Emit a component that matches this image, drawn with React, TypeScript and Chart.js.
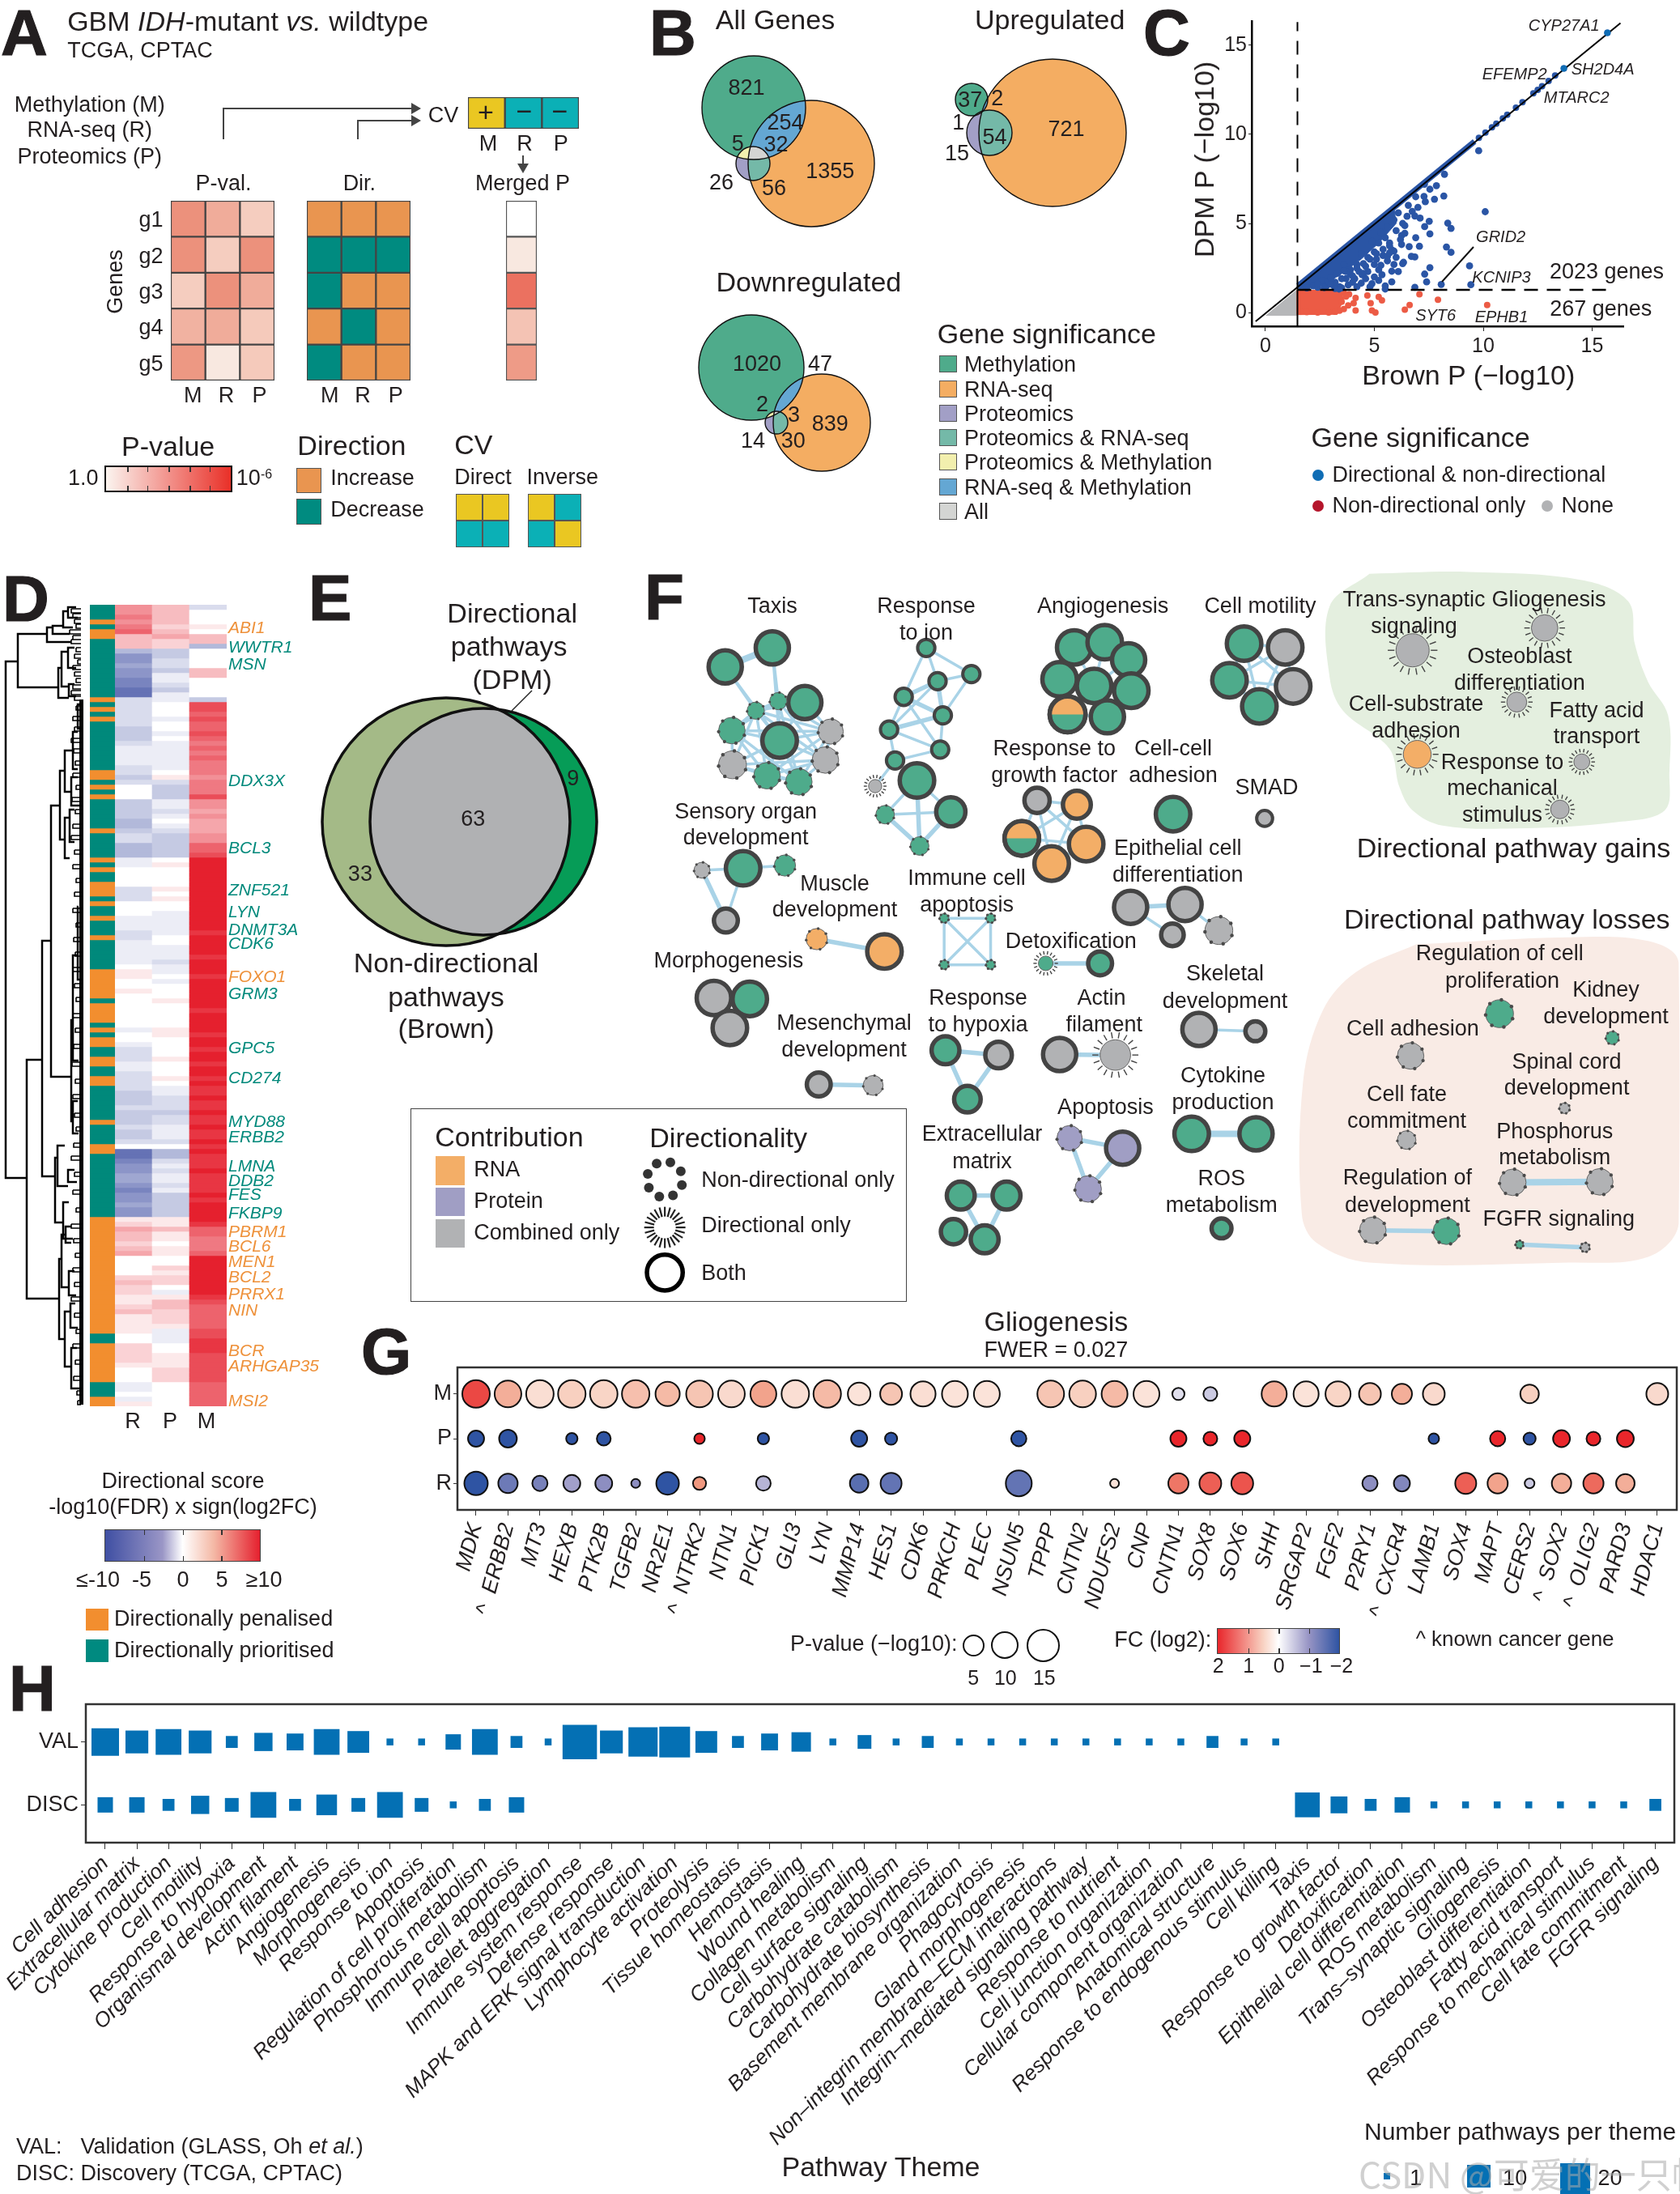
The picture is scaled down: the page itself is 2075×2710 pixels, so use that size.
import React, { useEffect, useRef } from 'react';
import { Chart, registerables } from 'chart.js';
Chart.register(...registerables);
const FONT = '"Liberation Sans", Arial, sans-serif';
Chart.defaults.font.family = FONT;
Chart.defaults.color = '#231f20';

/* ---------- DATA ---------- */
// Panel A
const pvalM = [3, 3, 1.2, 2, 2.8];
const pvalR = [2.2, 1.2, 3, 2.2, 0.3];
const pvalP = [1.2, 3, 2.2, 1.3, 1.3];
const dirM = ['I', 'D', 'D', 'I', 'D'];
const dirR = ['I', 'D', 'I', 'D', 'I'];
const dirP = ['I', 'D', 'I', 'I', 'I'];
const mergedP = [0, 0.3, 4, 1.5, 2.7];
const cvCells = ['+', '-', '-'];
// Panel B: [centre x, centre y, radius]
const vennAll = [[931, 133, 64], [1002, 202, 78], [930, 202, 21]];
const vennUp = [[1200, 123, 20], [1300, 164, 91], [1222, 164, 28]];
const vennDown = [[928, 454, 65], [1015, 522, 60], [959, 522, 14]];
// Panel C
const diagonalGenes = [9.8, 10.1, 10.4, 10.6, 10.9, 11.1, 11.5, 11.8, 12.3, 12.5, 12.7, 13, 13.3, 13.7, 15.7];
const blueX = [8.22, 7.85, 7.55, 8.19, 7.28, 7.76, 7.34, 6.56, 6.74, 6.86, 7.52, 8.37, 8.52, 7.31, 7.55, 6.4, 10.09, 8.31, 8.52, 7.07, 6.86, 6.25, 6.25, 5.8, 6.34, 7.55, 7.31, 9.37, 8.07, 9.43, 6.86, 7.4, 5.8, 5.8, 5.35, 4.89, 5.5, 4.44, 3.38, 9.79, 5.9, 5.6, 6, 5.5, 5.2, 5, 4.7, 4.6, 4.2, 3.9, 3.7, 3.2, 2.8, 5.3, 4.9, 5.7, 6.1, 6.5, 6.3, 5.4, 5, 4.3, 4, 4.6, 5.2, 5.6, 6, 6.1, 6.6, 6.9, 7.1, 7, 4.4, 3.6, 3.3, 2.6, 2.2, 7.3, 6.9,
  3.1, 3.5, 3.9, 4.2, 4.5, 4.8, 5.1, 5.4, 5.7, 2.4, 2.9, 3.4, 3.8, 4.1, 4.4, 4.7, 5, 5.3, 5.6, 5.9, 6.2, 2.7, 3.2, 3.7, 4.2, 4.8, 5.2, 5.5, 5.9, 6.3, 6.7, 3, 3.5, 4, 4.5, 5.1, 5.7, 6.4, 1.9, 2.4, 3, 3.6];
const blueY = [7.76, 7.12, 6.92, 6.54, 6.52, 6.36, 6.22, 6.02, 5.68, 5.42, 5.12, 5.02, 4.72, 4.82, 4.42, 4.88, 5.66, 3.68, 3.38, 3.72, 3.12, 4.32, 3.82, 3.52, 2.82, 2.52, 2.16, 2.62, 1.58, 1.56, 1.42, 1.72, 2.32, 1.72, 2.12, 1.62, 1.32, 2.12, 1.32, 9.08, 5.2, 4.8, 4.6, 4.2, 3.9, 3.4, 3.1, 2.6, 2.7, 2.4, 1.9, 1.7, 1.5, 4.5, 4, 3.9, 5.6, 5.4, 5, 3.2, 2.7, 2.3, 1.7, 1.9, 2.4, 2.9, 3.1, 2.3, 3.7, 4.2, 5.3, 5.9, 3.3, 2.7, 2.2, 1.8, 1.5, 7.2, 6.5,
  1.55, 1.9, 2.15, 2.5, 2.75, 3, 3.3, 3.55, 3.75, 1.42, 1.75, 1.45, 1.55, 1.9, 1.65, 2.3, 2, 2.65, 3.15, 3.45, 4.1, 1.4, 1.35, 2.3, 1.45, 1.45, 1.8, 1.5, 2.7, 2.75, 3.15, 1.6, 1.38, 2.05, 2.2, 3, 3.35, 4.45, 1.38, 1.6, 1.95, 2.35];
const redX = [4.68, 5.2, 5.35, 4.83, 4.89, 5.05, 7.07, 7.92, 6.62, 6.4, 10.18, 4.14, 4.14, 3.84, 4.05, 3.6, 3.7, 3.5, 3.8, 3.6, 3.4, 3.2, 2.9, 2.4, 1.9, 1.6];
const redY = [0.96, 0.88, 0.68, 0.52, 0.12, 0, 1.02, 0.72, 0.42, 0.16, 0.42, 0.12, 0.82, 1.02, 0.52, 1.1, 0.9, 0.6, 0.4, 0.2, 0.1, 0.05, 0, 0, 0.02, 0.05];
const blueDenseX = [1.5, 5.9, 6, 5.2, 4.4, 3.4, 2.6, 1.5];
const blueDenseY = [1.5, 5.9, 5, 3.9, 3, 2.1, 1.5, 1.3];
const redDenseX = [1.45, 1.45, 3.4, 3.6, 3.3, 1.45];
const redDenseY = [-0.12, 1.25, 1.25, 0.8, -0.1, -0.12];
// Panel D
const dAnno = 'TTTOTOOTTT' + 'TTTTTTTTTO' + 'TOTOTTTTTT' + 'TTTTOOTOTO' + 'TTTTTTOTTT' + 'TTOTOTTOOO' + 'TOTTOTTTOT' + 'TTTTTOOOOO' + 'OTOOOOTOTO' + 'OTTOOTTOOT' + 'TTTTTTOTTT' + 'TOOTTTTTTT' + 'TTTTTTOOOO' + 'OOOOOOOOOO' + 'OOOOOOOOOO' + 'TTOOOOOOOO' + 'TTTOO';
const dR = [5, 5, 6, 5, 6, 7, 3, 3, 3, -4,
  -6, -6, -5, -6, -6, -7, -7, -8, -8, -2,
  -2, -2, -2, -2, -2, -3, -3, -3, -2, -1,
  -1, -1, -1, -2, -2, -3, -2, 0, 0, 0,
  -3, -3, -3, -3, -4, -4, -3, -2, -2, -4,
  -4, -4, -1, -1, 0, 0, 0, 0, -2, -2,
  -2, 0, 0, 0, -1, -1, -1, -2, -2, -1,
  -1, -1, -1, -1, 0, 1, 1, 0, 0, 1,
  0, 0, 0, 0, 0, 0, 0, -1, 0, 0,
  -1, -2, -2, -2, -1, -1, -2, -2, -2, -2,
  -3, -3, -3, -2, -3, -3, -3, -2, -3, -3,
  -2, 0, -8, -8, -7, -6, -6, -5, -5, -6,
  -7, -6, -6, -5, -6, -6, 1, 2, 4, 3,
  3, 2, 3, 4, 0, 0, 0, 0, 2, 3,
  2, 2, 1, 1, 2, 3, 1, 1, 1, 1,
  0, 0, 2, 2, 2, 2, 1, 0, 0, 0,
  -1, -1, 0, -1, 1];
const dP = [3, 3, 3, 3, 2, 3, 4, 2, 2, -3,
  -3, -2, -2, -3, -1, -1, -2, -3, -1, -1,
  0, 0, 0, -1, 0, 0, -1, 0, -1, -1,
  -1, -1, -1, -1, 0, 1, -2, -3, -3, -3,
  -1, -1, -2, -1, 0, -1, -2, -3, -3, -3,
  -3, -3, 0, 1, 0, 0, 0, 0, 1, 0,
  1, 0, 0, -1, -1, -1, -1, -1, 0, 0,
  -1, -1, -1, -2, -1, -1, 0, -1, 0, 0,
  0, 1, 0, 0, 0, 0, 0, 1, 1, 0,
  0, 0, 0, 1, 0, 0, 0, 1, 0, -1,
  -1, -2, -2, -2, -3, -2, -2, -1, -1, -1,
  -2, 0, -4, -4, -2, -1, -2, -1, -1, -2,
  -1, -3, -3, -3, -3, -3, 1, 1, 3, 1,
  1, 0, 1, 1, 0, 0, 2, 1, 2, 2,
  0, -1, 1, 3, 3, 2, 2, 2, 1, -1,
  -1, -1, 0, 0, 1, 1, 1, 2, 2, 2,
  0, 0, 0, 0, 0];
const dM = [-2, 0, 0, 0, 1, 0, 3, 3, -4, 0,
  0, 0, 0, 3, 3, 0, 0, 0, 0, -3,
  8, 8, 7, 8, 7, 7, 8, 7, 6, 7,
  6, 7, 6, 6, 6, 5, 6, 6, 6, 8,
  5, 5, 4, 5, 4, 4, 4, 5, 5, 7,
  7, 8, 10, 10, 10, 10, 10, 10, 10, 10,
  10, 10, 10, 10, 10, 10, 10, 9, 10, 10,
  10, 10, 9, 10, 10, 10, 9, 10, 10, 10,
  10, 10, 10, 9, 10, 10, 10, 10, 9, 10,
  10, 9, 10, 10, 9, 10, 10, 9, 10, 9,
  9, 10, 9, 9, 10, 9, 9, 10, 9, 9,
  10, 9, 10, 9, 9, 9, 10, 9, 9, 9,
  9, 10, 9, 10, 10, 10, 10, 9, 7, 7,
  6, 6, 6, 7, 10, 10, 10, 10, 10, 10,
  10, 10, 9, 8, 7, 7, 7, 7, 7, 8,
  8, 9, 9, 9, 8, 8, 8, 8, 8, 8,
  7, 7, 7, 7, 7];
// dendrogram brackets: [x, y1, x1, y2, x2]
const dendroBrackets = [
  [7, 817, 22, 1455, 33], [22, 783, 58, 849, 72], [58, 775, 65, 793, 88], [65, 773, 78, 783, 86], [78, 755, 84, 775, 90],
  [84, 750, 94, 763, 96], [72, 825, 76, 862, 85], [76, 805, 84, 848, 85], [84, 800, 92, 825, 94], [85, 845, 92, 860, 94],
  [33, 1309, 52, 1604, 73], [52, 1162, 63, 1453, 68], [63, 995, 74, 1330, 88], [74, 952, 80, 1037, 80],
  [80, 927, 90, 978, 88], [90, 904, 96, 950, 96], [88, 960, 96, 995, 98], [80, 1010, 86, 1060, 86], [86, 1000, 92, 1040, 92],
  [73, 1555, 76, 1654, 80], [76, 1525, 81, 1590, 85], [80, 1620, 87, 1688, 88], [81, 1515, 88, 1535, 88], [85, 1570, 92, 1600, 94],
  [87, 1610, 93, 1640, 96], [88, 1665, 95, 1715, 98], [68, 1430, 71, 1510, 78], [71, 1415, 80, 1465, 84], [78, 1485, 85, 1530, 90], [84, 1445, 92, 1460, 95],
  [88, 1260, 90, 1385, 90], [90, 1180, 96, 1310, 97], [90, 1360, 96, 1400, 97], [96, 1120, 97, 1210, 98], [96, 900, 98, 870, 98],
];
const dendroTips = [[88, 752], [90, 758], [92, 765], [94, 771], [86, 778], [90, 785], [88, 790], [94, 800], [92, 808], [96, 815], [90, 822], [92, 830], [94, 838], [90, 846], [88, 853], [92, 860],
  [94, 872], [90, 885], [92, 898], [88, 912], [91, 925], [93, 940], [90, 955], [94, 970], [89, 985], [93, 1000], [90, 1018], [88, 1032], [92, 1050], [90, 1068], [94, 1085], [92, 1102], [90, 1122], [94, 1140], [91, 1158], [93, 1176], [90, 1195], [92, 1215], [94, 1232], [90, 1252], [93, 1270], [91, 1290], [89, 1312], [93, 1333], [90, 1352], [92, 1375], [94, 1392], [91, 1412], [88, 1428], [92, 1448], [90, 1470], [94, 1492], [88, 1512], [91, 1530], [93, 1548], [90, 1566], [92, 1584], [88, 1602], [92, 1622], [94, 1642], [90, 1660], [93, 1680], [91, 1700], [95, 1718], [96, 1730]];
const dLabels = [['ABI1', 774, 'O'], ['WWTR1', 798, 'T'], ['MSN', 819, 'T'], ['DDX3X', 963, 'T'], ['BCL3', 1046, 'T'], ['ZNF521', 1098, 'T'], ['LYN', 1125, 'T'], ['DNMT3A', 1147, 'T'], ['CDK6', 1164, 'T'], ['FOXO1', 1205, 'O'], ['GRM3', 1226, 'T'], ['GPC5', 1293, 'T'], ['CD274', 1330, 'T'], ['MYD88', 1384, 'T'], ['ERBB2', 1403, 'T'], ['LMNA', 1439, 'T'], ['DDB2', 1457, 'T'], ['FES', 1474, 'T'], ['FKBP9', 1497, 'T'], ['PBRM1', 1520, 'O'], ['BCL6', 1538, 'O'], ['MEN1', 1557, 'O'], ['BCL2', 1576, 'O'], ['PRRX1', 1597, 'O'], ['NIN', 1617, 'O'], ['BCR', 1667, 'O'], ['ARHGAP35', 1686, 'O'], ['MSI2', 1729, 'O']];
// Panel F: nodes [x, y, r, kind, colour], edges [i, j, width]
const taxis = { n: [[129, 228, 25, 'b', 'g'], [200, 188, 25, 'b', 'g'], [249, 303, 25, 'b', 'g'], [211, 383, 26, 'b', 'g'], [175, 320, 13, 'n', 'g'], [209, 300, 13, 'n', 'g'], [139, 362, 20, 'n', 'g'], [288, 364, 19, 'n', 'c'], [140, 434, 21, 'n', 'c'], [280, 424, 20, 'n', 'c'], [192, 457, 20, 'n', 'g'], [240, 470, 20, 'n', 'g']],
  e: [[0, 1, 7], [0, 3], [1, 3], [0, 4], [1, 5], [2, 3], [2, 4], [2, 5], [3, 4], [3, 5], [3, 6], [3, 7], [3, 8], [3, 9], [3, 10], [3, 11], [4, 5], [4, 6], [4, 7], [4, 8], [4, 10], [5, 6], [5, 7], [5, 9], [5, 11], [6, 8], [6, 10], [6, 11], [7, 9], [7, 10], [7, 11], [8, 10], [8, 9], [8, 11], [9, 10], [9, 11], [10, 11], [6, 7], [2, 7], [4, 9]] };
const ion = { n: [[432, 188, 13, 'b', 'g'], [500, 243, 13, 'b', 'g'], [449, 258, 13, 'b', 'g'], [398, 291, 13, 'b', 'g'], [457, 330, 13, 'b', 'g'], [376, 360, 13, 'b', 'g'], [453, 402, 13, 'b', 'g'], [385, 425, 13, 'b', 'g'], [355, 479, 10, 'd', 'c'], [418, 467, 26, 'b', 'g'], [469, 533, 22, 'b', 'g'], [370, 539, 14, 'n', 'g'], [422, 605, 14, 'n', 'g']],
  e: [[0, 1], [0, 3], [0, 2], [1, 2], [1, 4], [2, 3, 6], [2, 4, 6], [2, 5], [3, 4, 6], [3, 5], [3, 6], [4, 5, 6], [4, 6], [5, 6], [5, 7], [7, 8], [7, 6], [9, 11], [9, 12, 6], [9, 10], [10, 11], [10, 12, 6], [11, 12, 6]] };
const angio = { n: [[655, 187, 26, 'b', 'g'], [701, 176, 26, 'b', 'g'], [737, 213, 25, 'b', 'g'], [633, 254, 26, 'b', 'g'], [685, 268, 26, 'b', 'g'], [741, 278, 26, 'b', 'g'], [645, 328, 27, 'b', 'h'], [705, 333, 25, 'b', 'g']],
  e: [[0, 1], [1, 2], [0, 4], [1, 4], [2, 4], [3, 4], [4, 5], [4, 6], [4, 7], [6, 7], [5, 7], [3, 6]] };
const motility = { n: [[911, 179, 26, 'b', 'g'], [973, 187, 26, 'b', 'c'], [889, 256, 26, 'b', 'g'], [985, 269, 26, 'b', 'c'], [934, 311, 26, 'b', 'g']],
  e: [[0, 1], [0, 2], [0, 3], [0, 4], [1, 2], [1, 3], [1, 4], [2, 3], [2, 4], [3, 4]] };
const growth = { n: [[599, 509, 19, 'b', 'c'], [659, 518, 21, 'b', 'o'], [576, 589, 26, 'b', 'h'], [673, 601, 26, 'b', 'o'], [621, 642, 26, 'b', 'o']],
  e: [[0, 1], [0, 2], [0, 3], [0, 4], [1, 2], [1, 3], [1, 4], [2, 3], [2, 4], [3, 4]] };
const singles = { n: [[804, 538, 26, 'b', 'g'], [942, 547, 12, 'b', 'c'], [877, 1410, 15, 'b', 'g']], e: [] };
const sensory = { n: [[156, 652, 26, 'b', 'g'], [219, 646, 16, 'n', 'g'], [94, 656, 12, 'n', 'c'], [130, 762, 18, 'b', 'c']], e: [[0, 2], [0, 3], [2, 3, 6], [0, 1]] };
const muscle = { n: [[267, 801, 16, 'n', 'o'], [369, 827, 26, 'b', 'o']], e: [[0, 1, 6]] };
const immune = { n: [[459, 757, 7, 'n', 'g'], [529, 757, 7, 'n', 'g'], [459, 855, 7, 'n', 'g'], [529, 855, 7, 'n', 'g']], e: [[0, 1], [0, 2], [0, 3], [1, 2], [1, 3], [2, 3]] };
const detox = { n: [[612, 852, 11, 'd', 'g'], [694, 852, 18, 'b', 'g']], e: [[0, 1, 6]] };
const epith = { n: [[740, 734, 25, 'b', 'c'], [822, 728, 25, 'b', 'c'], [803, 792, 17, 'b', 'c'], [873, 783, 21, 'n', 'c']], e: [[0, 1, 6], [0, 2], [1, 3]] };
const morpho = { n: [[112, 925, 26, 'b', 'c'], [166, 927, 26, 'b', 'g'], [136, 988, 26, 'b', 'c']], e: [] };
const skeletal = { n: [[843, 991, 25, 'b', 'c'], [928, 995, 15, 'b', 'c']], e: [[0, 1]] };
const mesen = { n: [[270, 1107, 18, 'b', 'c'], [352, 1109, 15, 'n', 'c']], e: [[0, 1, 6]] };
const hypoxia = { n: [[461, 1035, 21, 'b', 'g'], [541, 1045, 20, 'b', 'c'], [494, 1138, 20, 'b', 'g']], e: [[0, 1, 6], [0, 2, 6], [1, 2, 6]] };
const actin = { n: [[633, 1044, 25, 'b', 'c'], [717, 1045, 23, 'd', 'c']], e: [[0, 1, 6]] };
const cytokine = { n: [[832, 1211, 26, 'b', 'g'], [929, 1211, 25, 'b', 'g']], e: [[0, 1, 7]] };
const apop = { n: [[648, 1220, 19, 'n', 'p'], [728, 1241, 25, 'b', 'p'], [676, 1327, 20, 'n', 'p']], e: [[0, 1, 6], [0, 2, 6], [1, 2, 6]] };
const ecm = { n: [[484, 1341, 21, 'b', 'g'], [553, 1341, 21, 'b', 'g'], [473, 1417, 19, 'b', 'g'], [520, 1433, 21, 'b', 'g']], e: [[0, 1, 6], [0, 3, 6], [1, 3, 6], [2, 3]] };
const gains = { n: [[1165, 193, 25, 'd', 'c'], [1364, 146, 20, 'd', 'c'], [1322, 302, 15, 'd', 'c'], [1172, 412, 21, 'd', 'o'], [1420, 428, 12, 'd', 'c'], [1387, 528, 14, 'd', 'c']], e: [] };
const losses = { n: [[1296, 958, 21, 'n', 'g'], [1466, 1009, 10, 'n', 'g'], [1162, 1047, 20, 'n', 'c'], [1394, 1157, 8, 'n', 'c'], [1156, 1224, 14, 'n', 'c'], [1316, 1313, 20, 'n', 'c'], [1447, 1312, 20, 'n', 'c'], [1105, 1414, 20, 'n', 'c'], [1216, 1416, 20, 'n', 'g'], [1326, 1444, 6, 'n', 'g'], [1425, 1450, 7, 'n', 'c']], e: [[5, 6, 7], [7, 8, 6], [9, 10, 4]] };
const legendNodes = { n: [[38, 1307, 27, 'n', 'w'], [38, 1408, 14, 'd', 'w'], [38, 1503, 27, 'b', 'w']], e: [] };
const clusters = [taxis, ion, angio, motility, growth, singles, sensory, muscle, immune, detox, epith, morpho, skeletal, mesen, hypoxia, actin, cytokine, apop, ecm, gains, losses, legendNodes];
const gainsBlob = [[1100, 32], [1250, 28], [1420, 45], [1490, 90], [1500, 180], [1520, 260], [1550, 330], [1552, 450], [1545, 530], [1470, 555], [1320, 568], [1210, 562], [1165, 530], [1145, 480], [1130, 400], [1060, 320], [1040, 250], [1040, 100]];
const lossBlob = [[1170, 812], [1400, 797], [1520, 805], [1566, 850], [1566, 1400], [1520, 1470], [1400, 1482], [1100, 1482], [1020, 1440], [998, 1380], [1000, 1100], [1030, 950], [1080, 870]];
// Panel G
const genes = ['MDK', '^  ERBB2', 'MT3', 'HEXB', 'PTK2B', 'TGFB2', 'NR2E1', '^  NTRK2', 'NTN1', 'PICK1', 'GLI3', 'LYN', 'MMP14', 'HES1', 'CDK6', 'PRKCH', 'PLEC', 'NSUN5', 'TPPP', 'CNTN2', 'NDUFS2', 'CNP', 'CNTN1', 'SOX8', 'SOX6', 'SHH', 'SRGAP2', 'FGF2', 'P2RY1', '^  CXCR4', 'LAMB1', 'SOX4', 'MAPT', 'CERS2', '^  SOX2', '^  OLIG2', 'PARD3', 'HDAC1'];
const pM = [10, 9.3, 10, 10, 10, 10, 7.1, 9.3, 9.3, 8.6, 10, 10, 5.7, 5, 7.9, 8.6, 8.6, null, 9.3, 9.3, 8.6, 8.6, 1.5, 2.1, null, 7.9, 7.9, 7.9, 5, 4.4, 5, null, null, 3.8, null, null, null, 5];
const fcM = [1.7, 0.8, 0.35, 0.5, 0.45, 0.65, 0.7, 0.6, 0.4, 0.9, 0.35, 0.7, 0.3, 0.6, 0.35, 0.3, 0.3, null, 0.6, 0.5, 0.7, 0.3, -0.3, -0.5, null, 0.8, 0.3, 0.45, 0.6, 0.8, 0.4, null, null, 0.5, null, null, null, 0.4];
const pP = [2.9, 3.5, null, 1.2, 2.1, null, null, 0.9, null, 1.2, null, null, 2.9, 1.5, null, null, null, 2.6, null, null, null, null, 2.9, 2.1, 2.9, null, null, null, null, null, 0.9, null, 2.6, 1.5, 3.2, 2.1, 3.2, null];
const fcP = [-2, -2, null, -2, -2, null, null, 2, null, -2, null, null, -2, -2, null, null, null, -2, null, null, null, null, 2, 2, 2, null, null, null, null, null, -2, null, 2, -2, 2, 2, 2, null];
const pR = [6.4, 4.1, 2.6, 3.2, 3.2, 0.3, 5.7, 1.8, null, 2.4, null, null, 3.8, 4.7, null, null, null, 8.6, null, null, 0.3, null, 4.4, 5, 5, null, null, null, 2.6, 2.9, null, 4.7, 4.4, 0.6, 4.1, 4.4, 3.8, null];
const fcR = [-2, -1.4, -1.3, -0.9, -1.1, -1.1, -2, 1, null, -0.7, null, null, -1.6, -1.5, null, null, null, -1.5, null, null, 0.3, null, 1.3, 1.5, 1.6, null, null, null, -1.1, -1.2, null, 1.5, 0.9, -0.5, 0.8, 1.4, 0.8, null];
// Panel H
const themes = ['Cell adhesion', 'Extracellular matrix', 'Cytokine production', 'Cell motility', 'Response to hypoxia', 'Organismal development', 'Actin filament', 'Angiogenesis', 'Morphogenesis', 'Response to ion', 'Apoptosis', 'Regulation of cell proliferation', 'Phosphorous metabolism', 'Immune cell apoptosis', 'Platelet aggregation', 'Immune system response', 'Defense response', 'MAPK and ERK signal transduction', 'Lymphocyte activation', 'Proteolysis', 'Tissue homeostasis', 'Hemostasis', 'Wound healing', 'Collagen metabolism', 'Cell surface signaling', 'Carbohydrate catabolism', 'Carbohydrate biosynthesis', 'Basement membrane organization', 'Phagocytosis', 'Gland morphogenesis', 'Non–integrin membrane–ECM interactions', 'Integrin–mediated signaling pathway', 'Response to nutrient', 'Cell junction organization', 'Cellular component organization', 'Anatomical structure', 'Response to endogenous stimulus', 'Cell killing', 'Taxis', 'Response to growth factor', 'Detoxification', 'Epithelial cell differentiation', 'ROS metabolism', 'Trans–synaptic signaling', 'Gliogenesis', 'Osteoblast differentiation', 'Fatty acid transport', 'Response to mechanical stimulus', 'Cell fate commitment', 'FGFR signaling'];
const valCounts = [16, 11, 14, 11, 3, 7, 6, 14, 10, 1, 1, 5, 14, 3, 1, 25, 11, 18, 20, 10, 3, 6, 8, 1, 4, 1, 3, 1, 1, 1, 1, 1, 1, 1, 1, 3, 1, 1, 0, 0, 0, 0, 0, 0, 0, 0, 0, 0, 0, 0];
const discCounts = [5, 5, 3, 7, 4, 14, 3, 9, 4, 14, 4, 1, 3, 5, 0, 0, 0, 0, 0, 0, 0, 0, 0, 0, 0, 0, 0, 0, 0, 0, 0, 0, 0, 0, 0, 0, 0, 0, 13, 6, 3, 5, 1, 1, 1, 1, 1, 1, 1, 3];

/* ---------- HELPERS ---------- */
const hex = (c: string) => [1, 3, 5].map(i => parseInt(c.slice(i, i + 2), 16));
function ramp(stops: [number, string][], t: number) {
  if (t <= stops[0][0]) return stops[0][1];
  for (let i = 1; i < stops.length; i++) {
    if (t <= stops[i][0]) {
      const [a, ca] = stops[i - 1], [b, cb] = stops[i];
      const f = (t - a) / (b - a), A = hex(ca), B = hex(cb);
      return `rgb(${A.map((v, k) => Math.round(v + (B[k] - v) * f)).join(',')})`;
    }
  }
  return stops[stops.length - 1][1];
}
const pColor = (v: number) => ramp([[0, '#ffffff'], [0.05, '#f9efe9'], [1.2, '#f5cdbf'], [3, '#ec917c'], [6, '#e93028']], v);
const scoreColor = (v: number) => ramp([[-10, '#3f4fa3'], [0, '#ffffff'], [10, '#e5202e']], v);
const fcColor = (v: number) => ramp([[-2, '#2f54a3'], [-1, '#9794c4'], [0, '#ffffff'], [0.5, '#f8d0c0'], [1, '#f0987f'], [2, '#e9262b']], v);
const dirColor = (d: string) => (d === 'I' ? '#e99550' : '#008b80');
const pRadius = (p: number) => (p < 5 ? 10 + 3.4 * p : 20 + 1.4 * p) / 2;
const countRadius = (n: number) => (8.5 * Math.sqrt(n)) / Math.SQRT2;
const NODE: any = { g: '#4eab8b', o: '#f3ae67', p: '#a09ec4', c: '#b1b2b4', h: '#4eab8b', w: '#ffffff' };
const base = (extra: any = {}) => ({ responsive: false, animation: false, events: [], plugins: { legend: { display: false }, tooltip: { enabled: false } }, ...extra, layout: { autoPadding: false, ...(extra.layout || {}) } });

function ChartBox({ x, y, w, h, config }: any) {
  const ref = useRef<HTMLCanvasElement>(null);
  useEffect(() => {
    const c = new Chart(ref.current as any, config());
    return () => c.destroy();
  }, []);
  return <canvas ref={ref} width={w} height={h} style={{ position: 'absolute', left: x, top: y, width: w, height: h, display: 'block' }} />;
}
const gap = { x: NaN, y: NaN };
const lineDs = (data: any[], o: any = {}) => ({ data, showLine: true, pointRadius: 0, borderColor: o.color || '#000', borderWidth: o.width ?? 2, borderDash: o.dash || [], backgroundColor: o.fill || 'transparent', fill: o.fill ? 'shape' : false, tension: o.tension || 0, order: o.order ?? 5, spanGaps: false, clip: false });
const layoutCfg = (x0: number, x1: number, y0: number, y1: number, datasets: any[], plugins: any[] = [], type = 'scatter') => () => ({
  type, data: { datasets }, plugins,
  options: base({ scales: { x: { type: 'linear', display: false, min: x0, max: x1 }, y: { type: 'linear', display: false, min: y0, max: y1, reverse: true } } }),
});
const heatCfg = (columns: string[][], border: string, bw: number) => () => {
  const n = columns[0].length;
  const datasets = Array.from({ length: n }, (_, r) => ({ data: columns.map(() => 1), backgroundColor: columns.map(c => c[r]), borderColor: border, borderWidth: bw, borderSkipped: false, barPercentage: 1, categoryPercentage: 1 }));
  return { type: 'bar', data: { labels: columns.map((_, i) => String(i)), datasets }, options: base({ scales: { x: { stacked: true, display: false }, y: { stacked: true, display: false, min: 0, max: n, reverse: true } } }) };
};
const fixAxis = (size: number) => (s: any) => {
  if (s.isHorizontal()) { s.height = size; s.paddingLeft = 0; s.paddingRight = 0; } else { s.width = size; s.paddingTop = 0; s.paddingBottom = 0; }
};
const framePlugin = { id: 'frame', afterDraw(c: any) { const a = c.chartArea, g = c.ctx; g.save(); g.strokeStyle = '#333'; g.lineWidth = 2.5; g.strokeRect(a.left, a.top, a.right - a.left, a.bottom - a.top); g.restore(); } };
const vennPlugin = {
  id: 'venn', afterDatasetsDraw(c: any) {
    const g = c.ctx;
    c.data.datasets.forEach((d: any, i: number) => {
      const els = c.getDatasetMeta(i).data;
      (d.overlaps || []).forEach(([ids, col]: any) => {
        g.save();
        ids.forEach((k: number) => { g.beginPath(); g.arc(els[k].x, els[k].y, els[k].options.radius, 0, Math.PI * 2); g.clip(); });
        g.fillStyle = col; g.fillRect(0, 0, c.width, c.height); g.restore();
      });
      els.forEach((e: any) => { g.beginPath(); g.arc(e.x, e.y, e.options.radius, 0, Math.PI * 2); g.strokeStyle = '#111'; g.lineWidth = d.outline || 1.4; g.stroke(); });
    });
  },
};
const netPlugin = {
  id: 'net', afterDatasetsDraw(c: any) {
    const g = c.ctx;
    c.data.datasets.forEach((d: any, i: number) => {
      if (!d.info) return;
      c.getDatasetMeta(i).data.forEach((e: any, k: number) => {
        const [, , zr, kind, col] = d.info[k];
        const r = zr / 1.22, X = e.x, Y = e.y;
        g.save();
        if (col === 'h') { g.beginPath(); g.arc(X, Y, r - 1.5, Math.PI, Math.PI * 2); g.closePath(); g.fillStyle = NODE.o; g.fill(); }
        const leg = col === 'w';
        if (kind === 'n') {
          const cnt = leg ? 8 : 7; const dot = leg ? 6 : Math.max(1.6, r * 0.13);
          g.fillStyle = leg ? '#333' : '#4a4a4a';
          for (let a = 0; a < cnt; a++) { const t = (a + 0.4) * Math.PI * 2 / cnt; g.beginPath(); g.arc(X + Math.cos(t) * r, Y + Math.sin(t) * r, dot, 0, Math.PI * 2); g.fill(); }
        }
        if (kind === 'd') {
          const cnt = leg ? 24 : 18; g.strokeStyle = leg ? '#222' : '#444'; g.lineWidth = leg ? 2.2 : 1.4;
          for (let a = 0; a < cnt; a++) { const t = a * Math.PI * 2 / cnt; const r0 = r + 2, r1 = r + (leg ? 14 : 3 + r * 0.35); g.beginPath(); g.moveTo(X + Math.cos(t) * r0, Y + Math.sin(t) * r0); g.lineTo(X + Math.cos(t) * r1, Y + Math.sin(t) * r1); g.stroke(); }
        }
        if (kind === 'b' && col === 'h') { g.beginPath(); g.arc(X, Y, r, 0, Math.PI * 2); g.strokeStyle = '#444'; g.lineWidth = 5.5; g.stroke(); }
        g.restore();
      });
    });
  },
};
const zip = (xs: number[], ys: number[]) => xs.map((x, i) => ({ x, y: ys[i] }));

/* ---------- CHART CONFIGS ---------- */
const vennDs = (c: number[][], colors: string[], overlaps: any[], outline = 1.4) => ({ data: c.map(([x, y, r]) => ({ x, y, r })), backgroundColor: colors, borderWidth: 0, overlaps, outline, clip: false });
const gbp = ['#4fab8b', '#f4ad62', '#a29fc6'];
const ovl = [[[0, 1], '#64a7d3'], [[0, 2], '#f2efae'], [[1, 2], '#74b9a8'], [[0, 1, 2], '#d4d5d3']];
const vennBCfg = layoutCfg(860, 1400, 60, 590, [vennDs(vennAll, gbp, ovl), vennDs(vennUp, gbp, ovl), vennDs(vennDown, gbp, ovl)], [vennPlugin], 'bubble');
const vennECfg = layoutCfg(390, 750, 850, 1175, [vennDs([[551, 1015, 153], [597, 1015, 140]], ['#a4ba87', '#069c57'], [[[0, 1], '#b0b1b3']], 3.5)], [vennPlugin], 'bubble');

const cCfg = () => ({
  type: 'scatter',
  data: { datasets: [
    lineDs(zip([0, 1.45, 1.45, 0], [-0.18, 1.3, -0.18, -0.18]), { fill: '#b6b7b9', color: '#b6b7b9', width: 0, order: 9 }),
    lineDs(zip(blueDenseX, blueDenseY), { fill: '#2a55a5', color: '#2a55a5', width: 1, order: 8 }),
    lineDs(zip([1.5, 9.6], [1.5, 9.6]), { color: '#2a55a5', width: 7, order: 8 }),
    { data: diagonalGenes.map(v => ({ x: v, y: v })), pointRadius: 4, backgroundColor: '#2a55a5', borderWidth: 0, order: 7, clip: false },
    { data: zip(blueX, blueY), pointRadius: 4.4, backgroundColor: '#2a55a5', borderWidth: 0, order: 7 },
    lineDs(zip(redDenseX, redDenseY), { fill: '#ec5b45', color: '#ec5b45', width: 1, order: 8 }),
    { data: zip(redX, redY), pointRadius: 4, backgroundColor: '#ec5b45', borderWidth: 0, order: 7 },
    lineDs(zip([-0.45, 16.3], [-0.5, 16.25]), { width: 2, order: 3 }),
    lineDs(zip([1.47, 1.47], [1.3, 16.3]), { dash: [17, 12], width: 2, order: 2 }),
    lineDs(zip([1.47, 1.47], [-0.77, 1.3]), { width: 2, order: 2 }),
    lineDs(zip([1.47, 16], [1.27, 1.27]), { dash: [17, 11], width: 2.5, order: 2 }),
    { data: [{ x: 13.7, y: 13.7 }, { x: 15.7, y: 15.7 }], pointRadius: 4, backgroundColor: '#0f6db5', borderWidth: 0, order: 1 },
  ] },
  options: base({
    layout: { padding: { top: 6, right: 10 } },
    scales: {
      x: { type: 'linear', min: -0.63, max: 16.43, ticks: { stepSize: 5, includeBounds: false, font: { size: 25 }, padding: 4 }, grid: { drawOnChartArea: false, tickLength: 6, tickColor: '#222' }, border: { display: true, color: '#000', width: 2.5 }, afterFit: fixAxis(50) },
      y: { type: 'linear', min: -0.77, max: 16.36, ticks: { stepSize: 5, includeBounds: false, font: { size: 25 }, padding: 2 }, grid: { drawOnChartArea: false, tickLength: 4, tickColor: '#222' }, border: { display: true, color: '#000', width: 2.5 }, afterFit: fixAxis(66) },
    },
  }),
});

const dendroLines: any[] = [];
dendroBrackets.forEach(([x, y1, x1, y2, x2]) => { dendroLines.push({ x: x1, y: y1 }, { x, y: y1 }, { x, y: y2 }, { x: x2, y: y2 }, gap); });
const tipLines: any[] = [];
dendroTips.forEach(([x, y]) => { tipLines.push({ x, y }, { x, y: y + 5 }, { x: 100, y: y + 5 }, gap, { x, y }, { x: 100, y }, gap); });
const dendroCfg = layoutCfg(0, 110, 740, 1745, [
  lineDs(dendroLines, { width: 2.5 }), lineDs(tipLines, { width: 1.6 }),
  lineDs([{ x: 100.5, y: 864 }, { x: 100.5, y: 1735 }], { width: 5 }),
]);

const netData = () => {
  const nodes: any[] = [], thin: any[] = [], thick: any[] = [], mid: any[] = [];
  clusters.forEach(cl => {
    cl.n.forEach((n: any) => nodes.push(n));
    cl.e.forEach((e: any) => {
      const a: any = cl.n[e[0]], b: any = cl.n[e[1]];
      const tgt = !e[2] ? thin : e[2] >= 7 ? thick : mid;
      tgt.push({ x: a[0], y: a[1] }, { x: b[0], y: b[1] }, gap);
    });
  });
  return { nodes, thin, thick, mid };
};
const netCfg = () => {
  const { nodes, thin, thick, mid } = netData();
  return layoutCfg(0, 1568, 0, 1568, [
    lineDs([...gainsBlob, gainsBlob[0]].map(([x, y]) => ({ x, y })), { fill: '#e4efdf', color: '#e4efdf', width: 0, tension: 0.35, order: 20 }),
    lineDs([...lossBlob, lossBlob[0]].map(([x, y]) => ({ x, y })), { fill: '#f9ebe5', color: '#f9ebe5', width: 0, tension: 0.35, order: 20 }),
    lineDs(thin, { color: '#a9d3e7', width: 3.5, order: 10 }),
    lineDs(mid, { color: '#a9d3e7', width: 5.5, order: 10 }),
    lineDs(thick, { color: '#a9d3e7', width: 8, order: 10 }),
    {
      data: nodes.map(n => ({ x: n[0], y: n[1] })), info: nodes, order: 1, clip: false,
      pointRadius: nodes.map(n => n[2] / 1.22),
      backgroundColor: nodes.map(n => NODE[n[4]]),
      borderColor: nodes.map(n => (n[3] === 'b' ? (n[4] === 'w' ? '#000' : '#444') : n[4] === 'w' ? 'rgba(0,0,0,0)' : '#666')),
      borderWidth: nodes.map(n => (n[3] === 'b' ? (n[2] < 15 ? 4 : 5.5) : n[4] === 'w' ? 0 : 1)),
    },
  ], [netPlugin])();
};

const gCfg = () => {
  const row = (ps: any[], fcs: any[], y: number) => {
    const idx = ps.map((p, i) => (p == null ? -1 : i)).filter(i => i >= 0);
    return { data: idx.map(i => ({ x: i, y, r: pRadius(ps[i]) })), backgroundColor: idx.map(i => fcColor(fcs[i])), borderColor: '#111', borderWidth: 2 };
  };
  return {
    type: 'bubble', plugins: [framePlugin],
    data: { datasets: [row(pM, fcM, 1), row(pP, fcP, 0), row(pR, fcR, -1)] },
    options: base({
      layout: { padding: { top: 4, right: 4 } },
      scales: {
        x: { type: 'linear', min: -0.583, max: 37.61, afterBuildTicks: (s: any) => { s.ticks = genes.map((_, i) => ({ value: i })); }, ticks: { autoSkip: false, minRotation: 75, maxRotation: 75, callback: (v: any) => genes[v], font: { size: 27, style: 'italic' }, padding: 6 }, grid: { drawOnChartArea: false, tickLength: 7, tickColor: '#333' }, border: { display: false }, afterFit: fixAxis(220) },
        y: { type: 'linear', min: -1.593, max: 1.593, afterBuildTicks: (s: any) => { s.ticks = [{ value: -1 }, { value: 0 }, { value: 1 }]; }, ticks: { callback: (v: any) => ['R', 'P', 'M'][v + 1], font: { size: 27 }, padding: 2 }, grid: { drawOnChartArea: false, tickLength: 5, tickColor: '#333' }, border: { display: false }, afterFit: fixAxis(45) },
      },
    }),
  };
};
const hCfg = () => {
  const row = (counts: number[], y: number) => {
    const idx = counts.map((c, i) => (c > 0 ? i : -1)).filter(i => i >= 0);
    return { data: idx.map(i => ({ x: i, y })), pointStyle: 'rect', pointRadius: idx.map(i => countRadius(counts[i])), backgroundColor: '#0470b4', borderWidth: 0 };
  };
  return {
    type: 'scatter', plugins: [framePlugin],
    data: { datasets: [row(valCounts, 1), row(discCounts, 0)] },
    options: base({
      layout: { padding: { top: 4, right: 7 } },
      scales: {
        x: { type: 'linear', min: -0.614, max: 49.6, afterBuildTicks: (s: any) => { s.ticks = themes.map((_, i) => ({ value: i })); }, ticks: { autoSkip: false, minRotation: 45, maxRotation: 45, callback: (v: any) => themes[v], font: { size: 26, style: 'italic' }, padding: 3 }, grid: { drawOnChartArea: false, tickLength: 8, tickColor: '#333' }, border: { display: false }, afterFit: fixAxis(434) },
        y: { type: 'linear', min: -0.6, max: 1.6, afterBuildTicks: (s: any) => { s.ticks = [{ value: 0 }, { value: 1 }]; }, ticks: { callback: (v: any) => (v === 1 ? 'VAL' : 'DISC'), font: { size: 27 }, padding: 3 }, grid: { drawOnChartArea: false, tickLength: 6, tickColor: '#333' }, border: { display: false }, afterFit: fixAxis(106) },
      },
    }),
  };
};
const annCfg = layoutCfg(0, 2075, 0, 2710, [
  lineDs([{ x: 276, y: 172 }, { x: 276, y: 134 }, { x: 512, y: 134 }, gap, { x: 442, y: 172 }, { x: 442, y: 149 }, { x: 512, y: 149 }, gap, { x: 646, y: 192 }, { x: 646, y: 208 }], { color: '#444', width: 2 }),
  lineDs([{ x: 657, y: 853 }, { x: 632, y: 878 }], { color: '#222', width: 1.5 }),
  lineDs([{ x: 1820, y: 305 }, { x: 1781, y: 348 }], { color: '#111', width: 2 }),
  { data: [{ x: 512, y: 134 }, { x: 512, y: 149 }], pointStyle: 'triangle', pointRadius: 8, rotation: 90, backgroundColor: '#444', borderWidth: 0 },
  { data: [{ x: 646, y: 206 }], pointStyle: 'triangle', pointRadius: 8, rotation: 180, backgroundColor: '#444', borderWidth: 0 },
]);

/* ---------- TEXT ---------- */
type Tx = { x: number; y: number; s: any; size: number; a?: string; i?: boolean; c?: string; rot?: number; b?: boolean };
const Z = (ox: number, oy: number, sx: number, sy: number) => (x: number, y: number, s: any, size = 27, o: any = {}): Tx => ({ x: ox + x / sx, y: oy + y / sy, s, size, ...o });
const A = Z(0, 0, 1.96, 2.27), B = Z(800, 0, 1.23, 2.27), D = Z(0, 690, 1.96, 1.568), F = Z(790, 690, 1.22, 1.704), G = Z(440, 1600, 0.959, 3), H1 = Z(0, 2080, 1.5077, 2.49), H2 = Z(1035, 2080, 1.5077, 2.49);
const L = { a: 'l' };
const letter = (x: number, y: number, s: string): Tx => ({ x, y, s, size: 80, a: 'l', b: true });
const it = { i: true };
const texts: Tx[] = [
  letter(1, 41, 'A'), letter(802, 41, 'B'), letter(1412, 41, 'C'), letter(3, 740, 'D'), letter(381, 739, 'E'), letter(796, 738, 'F'), letter(446, 1670, 'G'), letter(11, 2086, 'H'),
  // A
  A(163, 60, <>GBM <i>IDH</i>-mutant <i>vs.</i> wildtype</>, 34, L), A(163, 140, 'TCGA, CPTAC', 27, L),
  A(217, 292, 'Methylation (M)'), A(217, 364, 'RNA-seq (R)'), A(217, 438, 'Proteomics (P)'),
  A(1073, 322, 'CV'), A(1176, 314, '+', 34), A(1269, 312, '−', 34), A(1355, 312, '−', 34),
  A(1182, 402, 'M'), A(1270, 402, 'R'), A(1358, 402, 'P'), A(1265, 512, 'Merged P'), A(541, 512, 'P-val.'), A(870, 512, 'Dir.'),
  A(395, 615, 'g1', 27, { a: 'r' }), A(395, 717, 'g2', 27, { a: 'r' }), A(395, 818, 'g3', 27, { a: 'r' }), A(395, 918, 'g4', 27, { a: 'r' }), A(395, 1020, 'g5', 27, { a: 'r' }),
  A(278, 790, 'Genes', 27, { rot: -90 }),
  A(467, 1108, 'M'), A(548, 1108, 'R'), A(628, 1108, 'P'), A(798, 1108, 'M'), A(878, 1108, 'R'), A(958, 1108, 'P'),
  A(407, 1250, 'P-value', 34), A(238, 1340, '1.0', 27, { a: 'r' }), A(572, 1340, <>10<sup style={{ fontSize: 16, verticalAlign: 8, lineHeight: 0 }}>-6</sup></>, 27, L),
  A(720, 1248, 'Direction', 34, L), A(800, 1340, 'Increase', 27, L), A(800, 1427, 'Decrease', 27, L),
  A(1100, 1246, 'CV', 34, L), A(1100, 1338, 'Direct', 27, L), A(1275, 1338, 'Inverse', 27, L),
  // B
  B(103, 55, 'All Genes', 34, L), B(497, 55, 'Upregulated', 34, L), B(104, 790, 'Downregulated', 34, L),
  B(150, 245, '821'), B(209, 343, '254'), B(195, 403, '32'), B(137, 402, '5'), B(112, 510, '26'), B(192, 527, '56'), B(277, 480, '1355'),
  B(490, 280, '37'), B(531, 275, '2'), B(472, 343, '1'), B(527, 384, '54'), B(470, 428, '15'), B(636, 361, '721'),
  B(166, 1020, '1020'), B(262, 1020, '47'), B(174, 1133, '2'), B(222, 1162, '3'), B(277, 1188, '839'), B(160, 1234, '14'), B(221, 1236, '30'),
  B(440, 935, 'Gene significance', 34, L),
  ...['Methylation', 'RNA-seq', 'Proteomics', 'Proteomics & RNA-seq', 'Proteomics & Methylation', 'RNA-seq & Methylation', 'All'].map((s, i) => B(481, [1022, 1092, 1160, 1228, 1297, 1366, 1434][i], s, 27, L)),
  // C
  B(1392, 70, 'CYP27A1', 20, it), B(1451, 192, 'SH2D4A', 20, it), B(1317, 207, 'EFEMP2', 20, it), B(1411, 272, 'MTARC2', 20, it), B(1296, 663, 'GRID2', 20, it), B(1297, 777, 'KCNIP3', 20, it), B(1197, 882, 'SYT6', 20, it), B(1297, 888, 'EPHB1', 20, it),
  B(1457, 760, '2023 genes'), B(1448, 865, '267 genes'),
  B(1247, 1050, 'Brown P (−log10)', 34), B(845, 448, 'DPM P (−log10)', 34, { rot: -90 }),
  B(1008, 1226, 'Gene significance', 34, L), B(1040, 1330, 'Directional & non-directional', 27, L), B(1040, 1416, 'Non-directional only', 27, L), B(1388, 1416, 'None', 27, L),
  // D
  ...dLabels.map(([s, y, k]: any) => ({ x: 282, y, s, size: 21, a: 'l', i: true, c: k === 'O' ? '#ee913a' : '#00897b' } as Tx)),
  { x: 164, y: 1755, s: 'R', size: 27 }, { x: 210, y: 1755, s: 'P', size: 27 }, { x: 255, y: 1755, s: 'M', size: 27 },
  { x: 226, y: 1829, s: 'Directional score', size: 27 }, { x: 226, y: 1861, s: '-log10(FDR) x sign(log2FC)', size: 27 },
  { x: 121, y: 1951, s: '≤-10', size: 27 }, { x: 175, y: 1951, s: '-5', size: 27 }, { x: 226, y: 1951, s: '0', size: 27 }, { x: 274, y: 1951, s: '5', size: 27 }, { x: 326, y: 1951, s: '≥10', size: 27 },
  { x: 141, y: 1999, s: 'Directionally penalised', size: 27, a: 'l' }, { x: 141, y: 2038, s: 'Directionally prioritised', size: 27, a: 'l' },
  // E
  D(1240, 105, 'Directional', 34), D(1232, 170, 'pathways', 34), D(1240, 233, '(DPM)', 34),
  D(1080, 782, 'Non-directional', 34), D(1080, 848, 'pathways', 34), D(1080, 910, '(Brown)', 34),
  D(1145, 503, '63'), D(872, 610, '33'), D(1387, 425, '9'),
  D(1053, 1120, 'Contribution', 34, L), D(1147, 1182, 'RNA', 27, L), D(1147, 1243, 'Protein', 27, L), D(1147, 1304, 'Combined only', 27, L),
  // F
  F(15, 1218, 'Directionality', 34, L), F(93, 1307, 'Non-directional only', 27, L), F(93, 1403, 'Directional only', 27, L), F(93, 1503, 'Both', 27, L),
  F(200, 98, 'Taxis'), F(432, 98, 'Response'), F(432, 155, 'to ion'), F(698, 98, 'Angiogenesis'), F(935, 98, 'Cell motility'),
  F(625, 399, 'Response to'), F(625, 455, 'growth factor'), F(804, 399, 'Cell-cell'), F(804, 455, 'adhesion'), F(945, 480, 'SMAD'),
  F(160, 531, 'Sensory organ'), F(160, 587, 'development'), F(294, 683, 'Muscle'), F(294, 738, 'development'), F(493, 671, 'Immune cell'), F(493, 727, 'apoptosis'),
  F(811, 609, 'Epithelial cell'), F(811, 665, 'differentiation'), F(134, 845, 'Morphogenesis'), F(650, 804, 'Detoxification'), F(882, 873, 'Skeletal'), F(882, 930, 'development'),
  F(510, 924, 'Response'), F(510, 979, 'to hypoxia'), F(696, 924, 'Actin'), F(700, 979, 'filament'), F(308, 977, 'Mesenchymal'), F(308, 1033, 'development'),
  F(879, 1087, 'Cytokine'), F(879, 1144, 'production'), F(702, 1154, 'Apoptosis'), F(516, 1210, 'Extracellular'), F(516, 1267, 'matrix'), F(877, 1303, 'ROS'), F(877, 1360, 'metabolism'),
  F(1167, 85, 'Trans-synaptic'), F(1167, 142, 'signaling'), F(1370, 86, 'Gliogenesis'), F(1326, 205, 'Osteoblast'), F(1326, 261, 'differentiation'), F(1170, 305, 'Cell-substrate'), F(1170, 362, 'adhesion'), F(1442, 319, 'Fatty acid'), F(1442, 374, 'transport'), F(1300, 427, 'Response to'), F(1300, 483, 'mechanical'), F(1300, 538, 'stimulus'),
  F(1317, 608, 'Directional pathway gains', 34), F(1307, 758, 'Directional pathway losses', 34),
  F(1296, 830, 'Regulation of cell'), F(1300, 887, 'proliferation'), F(1456, 907, 'Kidney'), F(1456, 963, 'development'), F(1165, 988, 'Cell adhesion'), F(1397, 1058, 'Spinal cord'), F(1397, 1113, 'development'), F(1156, 1127, 'Cell fate'), F(1156, 1183, 'commitment'), F(1379, 1205, 'Phosphorus'), F(1379, 1260, 'metabolism'), F(1157, 1302, 'Regulation of'), F(1157, 1359, 'development'), F(1385, 1389, 'FGFR signaling'),
  // G
  G(829, 95, 'Gliogenesis', 34), G(829, 200, 'FWER = 0.027', 27),
  G(712, 1290, 'P-value (−log10):', 27, { a: 'r' }), G(731, 1415, '5', 25), G(769, 1415, '10', 25), G(815, 1415, '15', 25),
  G(1013, 1275, 'FC (log2):', 27, { a: 'r' }), G(1021, 1372, '2', 25), G(1057, 1372, '1', 25), G(1093, 1372, '0', 25), G(1131, 1372, '−1', 25), G(1167, 1372, '−2', 25),
  G(1255, 1272, '^ known cancer gene', 26, L),
  // H
  H1(30, 1422, 'VAL:', 27, L), H1(150, 1422, <>Validation (GLASS, Oh <i>et al.</i>)</>, 27, L), H1(30, 1503, 'DISC:', 27, L), H1(150, 1503, 'Discovery (TCGA, CPTAC)', 27, L),
  { x: 1088, y: 2676, s: 'Pathway Theme', size: 34 },
  H2(980, 1378, 'Number pathways per theme', 30, L), H2(1076, 1518, '1', 27), H2(1238, 1518, '10', 27, L), H2(1415, 1518, '20', 27, L),
];
const boxes = [
  [366, 578, 31, 31, '#e99550'], [366, 616, 31, 32, '#008b80'],
  [563, 610, 33, 33, '#eac722'], [596, 610, 33, 33, '#eac722'], [563, 643, 33, 33, '#0bb0b6'], [596, 643, 33, 33, '#0bb0b6'],
  [652, 610, 33, 33, '#eac722'], [685, 610, 33, 33, '#0bb0b6'], [652, 643, 33, 33, '#0bb0b6'], [685, 643, 33, 33, '#eac722'],
  ...['#4fab8b', '#f4ad62', '#a29fc6', '#74b9a8', '#f2efae', '#64a7d3', '#d4d5d3'].map((c, i) => [1160, [439, 470, 500, 530, 560, 591, 621][i], 22, 21, c]),
  [538, 1428, 36, 36, '#f3ae67', 0], [538, 1467, 36, 35, '#a09ec4', 0], [538, 1506, 36, 35, '#b1b2b4', 0],
  [106, 1987, 28, 27, '#f28e2f', 0], [106, 2025, 28, 28, '#008a80', 0],
  [1709, 2684, 8, 8, '#0470b4', 0], [1812, 2674, 29, 28, '#0470b4', 0], [1927, 2672, 37, 38, '#0470b4', 0],
] as any[];
const dots = [[1628, 587, 7, '#0f6db5'], [1628, 625, 7, '#b5152b'], [1911, 625, 7, '#b1b2b4']] as any[];
const pCircles = [[1202, 2032, 27], [1241, 2032, 34], [1288, 2032, 41]];
const gradBars = [
  { x: 129, y: 575, w: 158, h: 33, g: 'linear-gradient(90deg,#fbf4ef,#e93028)', t: [0.17, 0.33, 0.5, 0.67, 0.83], bd: '2.5px solid #111' },
  { x: 129, y: 1889, w: 193, h: 40, g: 'linear-gradient(90deg,#3f4fa3,#9a96c6 37%,#ffffff 50%,#f4b9a6 70%,#e5202e)', t: [0.25, 0.5, 0.75], bd: '1.5px solid #444' },
  { x: 1503, y: 2011, w: 152, h: 32, g: 'linear-gradient(90deg,#e9262b,#f8d0c0 37%,#ffffff 50%,#9794c4 75%,#2f54a3)', t: [0.25, 0.5, 0.75], bd: '1.5px solid #444' },
];

function Label({ t }: { t: Tx }) {
  const ax = t.a === 'l' ? '0' : t.a === 'r' ? '-100%' : '-50%';
  return (
    <div style={{ position: 'absolute', left: t.x, top: t.y, fontFamily: FONT, fontSize: t.size, lineHeight: 1, whiteSpace: 'pre', color: t.c || '#231f20', fontStyle: t.i ? 'italic' : 'normal', fontWeight: t.b ? 700 : 400, WebkitTextStroke: t.b ? '1.2px #231f20' : undefined, transform: `translate(${ax},-50%)${t.rot ? ` rotate(${t.rot}deg)` : ''}` } as any}>{t.s}</div>
  );
}

export default function App() {
  return (
    <div style={{ position: 'absolute', left: 0, top: 0, width: 2075, height: 2710, overflow: 'hidden', background: '#fff' }}>
      {boxes.map((b, i) => <div key={i} style={{ position: 'absolute', left: b[0], top: b[1], width: b[2], height: b[3], background: b[4], boxSizing: 'border-box', border: b[5] === 0 ? 'none' : '1.5px solid #555' }} />)}
      {dots.map((d, i) => <div key={i} style={{ position: 'absolute', left: d[0] - d[2], top: d[1] - d[2], width: 2 * d[2], height: 2 * d[2], borderRadius: '50%', background: d[3] }} />)}
      {pCircles.map((d, i) => <div key={i} style={{ position: 'absolute', left: d[0] - d[2] / 2, top: d[1] - d[2] / 2, width: d[2], height: d[2], boxSizing: 'border-box', borderRadius: '50%', border: '2px solid #111' }} />)}
      {gradBars.map((b, i) => (
        <div key={i} style={{ position: 'absolute', left: b.x, top: b.y, width: b.w, height: b.h, boxSizing: 'border-box', background: b.g, border: b.bd }}>
          {b.t.map((f, k) => <React.Fragment key={k}><div style={{ position: 'absolute', left: `${f * 100}%`, top: 0, width: 1.5, height: 6, background: '#333' }} /><div style={{ position: 'absolute', left: `${f * 100}%`, bottom: 0, width: 1.5, height: 6, background: '#333' }} /></React.Fragment>)}
        </div>
      ))}
      <div style={{ position: 'absolute', left: 507, top: 1369, width: 613, height: 239, boxSizing: 'border-box', border: '1.5px solid #444' }} />
      <ChartBox x={211} y={248} w={128} h={222} config={heatCfg([pvalM, pvalR, pvalP].map(c => c.map(pColor)), '#444', 1.5)} />
      <ChartBox x={379} y={248} w={128} h={222} config={heatCfg([dirM, dirR, dirP].map(c => c.map(dirColor)), '#444', 1.5)} />
      <ChartBox x={625} y={248} w={38} h={222} config={heatCfg([mergedP.map(pColor)], '#555', 1.5)} />
      <ChartBox x={578} y={120} w={137} h={39} config={heatCfg(cvCells.map(c => [c === '+' ? '#eac722' : '#0bb0b6']), '#444', 1.5)} />
      <ChartBox x={860} y={60} w={540} h={530} config={vennBCfg} />
      <ChartBox x={390} y={850} w={360} h={325} config={vennECfg} />
      <ChartBox x={1480} y={20} w={535} h={433} config={cCfg} />
      <ChartBox x={0} y={740} w={110} h={1005} config={dendroCfg} />
      <ChartBox x={111} y={747} w={31} h={990} config={heatCfg([dAnno.split('').map(k => (k === 'T' ? '#00897b' : '#f28e2f'))], 'transparent', 0)} />
      <ChartBox x={142} y={747} w={138} h={990} config={heatCfg([dR, dP, dM].map(c => c.map(scoreColor)), 'transparent', 0)} />
      <ChartBox x={790} y={690} w={1285} h={920} config={netCfg} />
      <ChartBox x={520} y={1685} w={1555} h={400} config={gCfg} />
      <ChartBox x={0} y={2101} w={2075} h={609} config={hCfg} />
      <ChartBox x={0} y={0} w={2075} h={2710} config={annCfg} />
      {texts.map((t, i) => <Label key={i} t={t} />)}
      <div style={{ position: 'absolute', left: 1678, top: 2652, fontFamily: '"Noto Sans CJK SC", sans-serif', fontSize: 44, color: 'rgba(170,170,170,0.55)', whiteSpace: 'pre' }}>CSDN @可爱的一只帆</div>
    </div>
  );
}
